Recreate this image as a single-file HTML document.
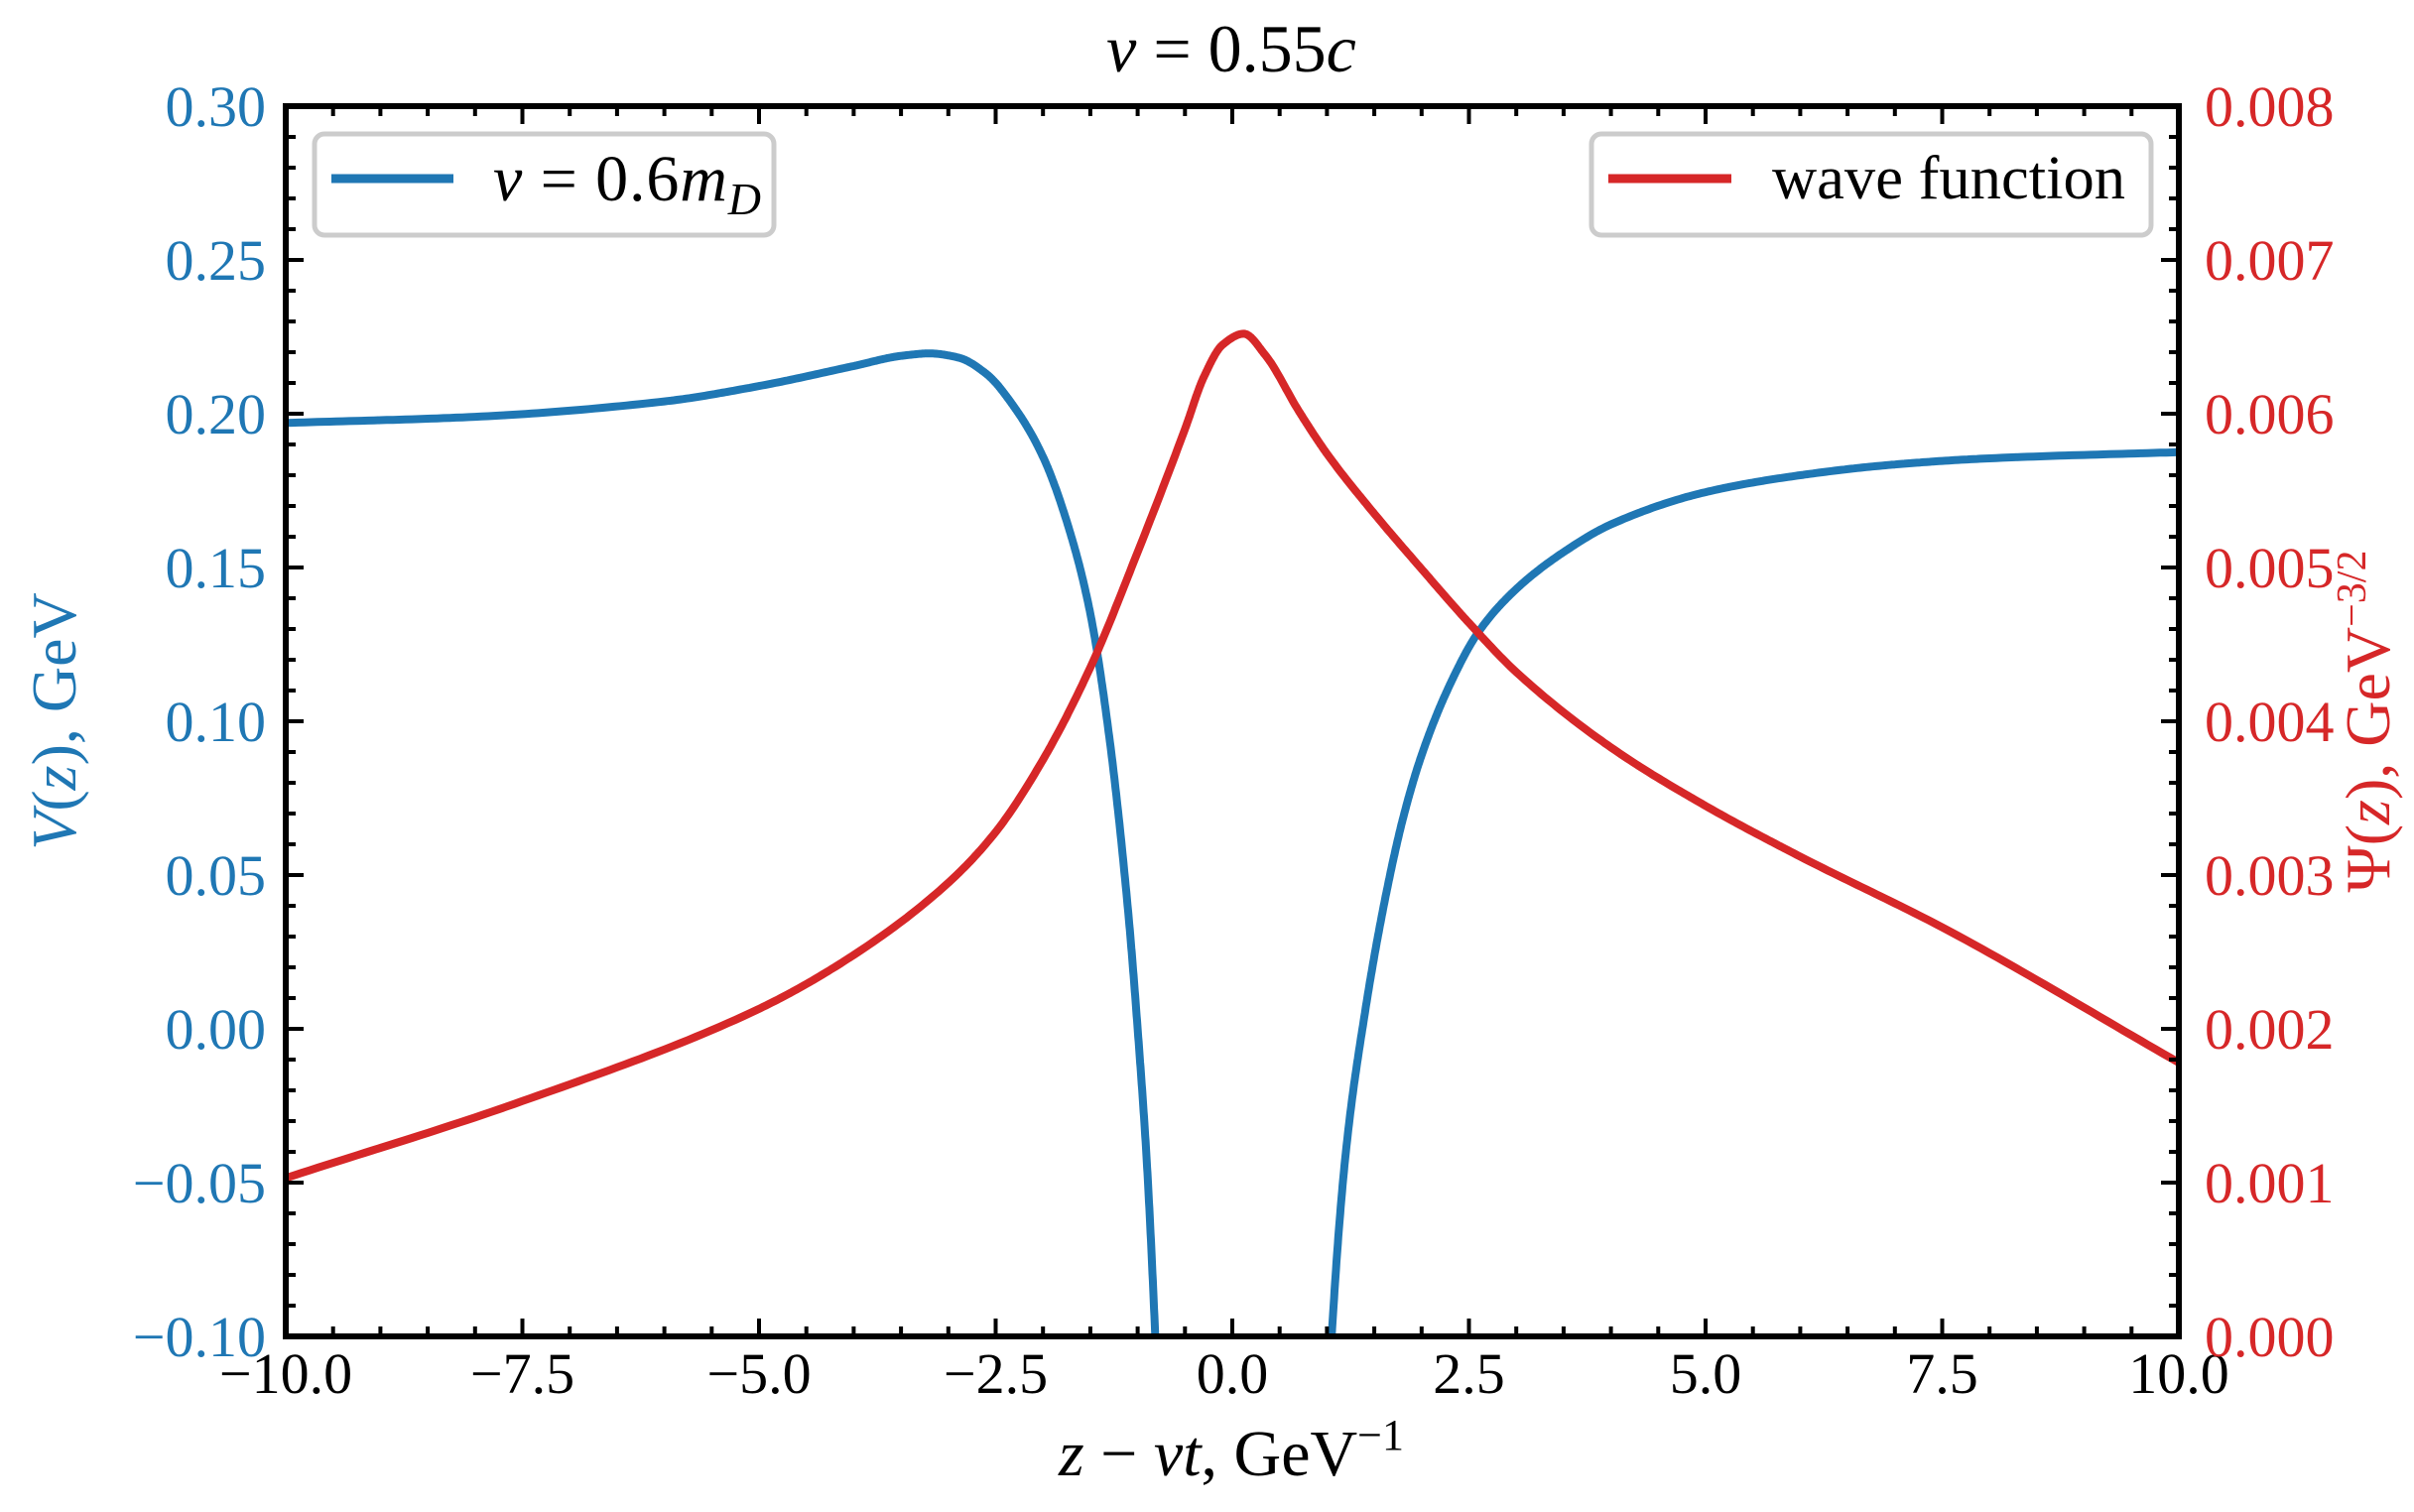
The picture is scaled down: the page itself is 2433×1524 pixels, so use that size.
<!DOCTYPE html>
<html><head><meta charset="utf-8"><style>
html,body{margin:0;padding:0;background:#fff;}
svg{display:block;}
text{font-family:"Liberation Serif",serif;}
</style></head><body>
<svg id="s" width="2433" height="1524" viewBox="0 0 2433 1524" xmlns="http://www.w3.org/2000/svg">
<defs><clipPath id="c"><rect x="288" y="107" width="1908" height="1240"/></clipPath></defs>
<g id="curves" clip-path="url(#c)"></g>
<g id="ticks"></g>
<rect x="288" y="107" width="1908" height="1240" fill="none" stroke="#000" stroke-width="6"/>
<text x="1241" y="72" font-size="68" text-anchor="middle" font-style="italic">v <tspan font-style="normal">= 0.55</tspan>c</text>
<rect x="317" y="135" width="463" height="102" rx="10" fill="#fff" fill-opacity="0.8" stroke="#ccc" stroke-width="5"/>
<line x1="334" y1="180" x2="457" y2="180" stroke="#1f77b4" stroke-width="9"/>
<text x="497" y="202" font-size="66" textLength="270"><tspan font-style="italic">ν</tspan> = 0.6<tspan font-style="italic">m</tspan><tspan font-style="italic" font-size="46" dy="14">D</tspan></text>
<rect x="1604" y="135" width="564" height="102" rx="10" fill="#fff" fill-opacity="0.8" stroke="#ccc" stroke-width="5"/>
<line x1="1621" y1="180" x2="1745" y2="180" stroke="#d62728" stroke-width="9"/>
<text x="1786" y="200" font-size="62" textLength="356" lengthAdjust="spacingAndGlyphs">wave function</text>
<text x="1241" y="1487" font-size="66" text-anchor="middle"><tspan font-style="italic">z</tspan> − <tspan font-style="italic">vt</tspan>, GeV<tspan font-size="44" dy="-26">−1</tspan></text>
<text transform="translate(76,727) rotate(-90)" font-size="64" text-anchor="middle" fill="#1f77b4"><tspan font-style="italic">V</tspan>(<tspan font-style="italic">z</tspan>), GeV</text>
<text transform="translate(2408,727) rotate(-90)" font-size="64" text-anchor="middle" fill="#d62728">Ψ(<tspan font-style="italic">z</tspan>), GeV<tspan font-size="42" dy="-24">−3/2</tspan></text>
</svg>
<script>
const NS="http://www.w3.org/2000/svg";
const L=288,R=2196,T=107,B=1347;
const X=x=>L+(x+10)*95.4, YL=v=>B-(v+0.1)*3100, YR=p=>B-p*155000;
function el(p,n,a,txt){const e=document.createElementNS(NS,n);for(const k in a)e.setAttribute(k,a[k]);if(txt!==undefined)e.textContent=txt;p.appendChild(e);return e;}
function mono(pts){const n=pts.length,xs=pts.map(p=>p[0]),ys=pts.map(p=>p[1]);const d=[],m=[];
for(let i=0;i<n-1;i++)d.push((ys[i+1]-ys[i])/(xs[i+1]-xs[i]));
m[0]=d[0];m[n-1]=d[n-2];for(let i=1;i<n-1;i++){if(d[i-1]*d[i]<=0)m[i]=0;else{const w1=2*(xs[i+1]-xs[i])+(xs[i]-xs[i-1]),w2=(xs[i+1]-xs[i])+2*(xs[i]-xs[i-1]);m[i]=(w1+w2)/(w1/d[i-1]+w2/d[i]);}}
const out=[];for(let i=0;i<n-1;i++){const h=xs[i+1]-xs[i];for(let k=0;k<30;k++){const t=k/30,t2=t*t,t3=t2*t;
out.push([xs[i]+t*h,(2*t3-3*t2+1)*ys[i]+(t3-2*t2+t)*h*m[i]+(-2*t3+3*t2)*ys[i+1]+(t3-t2)*h*m[i+1]]);}}
out.push([xs[n-1],ys[n-1]]);return out;}
function path(pts,fy){return "M"+pts.map(p=>X(p[0]).toFixed(1)+","+fy(p[1]).toFixed(1)).join(" L");}
const cg=document.getElementById("curves");
const b1=[[-10,0.197],[-8,0.199],[-6,0.204],[-5,0.209],[-4,0.2155],[-3.5,0.2188],[-3.2,0.2196],[-2.9,0.2183],[-2.6,0.213],[-2.3,0.202],[-2.0,0.186],[-1.7,0.16],[-1.5,0.135],[-1.3,0.095],[-1.1,0.038],[-1,0.0],[-0.9,-0.045],[-0.8,-0.11],[-0.75,-0.15]];
const b2=[[0.95,-0.17],[1.05,-0.1],[1.2,-0.04],[1.4,0.005],[1.6,0.04],[1.8,0.068],[2,0.089],[2.3,0.112],[2.6,0.129],[3,0.143],[3.5,0.155],[4,0.164],[5,0.1745],[6,0.18],[7,0.1835],[8,0.1855],[10,0.1875]];
const r=[[-10,0.00103],[-7.5,0.00153],[-5,0.00213],[-4,0.00248],[-3,0.00295],[-2.5,0.00328],[-2,0.00375],[-1.5,0.00435],[-1,0.0051],[-0.5,0.0059],[-0.3,0.00624],[-0.1,0.00645],[0.12,0.00652],[0.35,0.00638],[0.7,0.00602],[1,0.00574],[1.5,0.00535],[2,0.00499],[2.5,0.00464],[3,0.00432],[4,0.00383],[5,0.00345],[6,0.00312],[7.5,0.00266],[10,0.00178]];
el(cg,"path",{d:path(mono(b1),YL),fill:"none",stroke:"#1f77b4","stroke-width":8,"stroke-linejoin":"round"});
el(cg,"path",{d:path(mono(b2),YL),fill:"none",stroke:"#1f77b4","stroke-width":8,"stroke-linejoin":"round"});
el(cg,"path",{d:path(mono(r),YR),fill:"none",stroke:"#d62728","stroke-width":8,"stroke-linejoin":"round"});
const tg=document.getElementById("ticks");
const tk=(x1,y1,x2,y2)=>el(tg,"line",{x1,y1,x2,y2,stroke:"#000","stroke-width":4});
for(let i=0;i<=40;i++){const x=X(-10+i*0.5),len=i%5==0?18:10;tk(x,B,x,B-len);tk(x,T,x,T+len);
 if(i%5==0){const v=-10+i*0.5;el(tg,"text",{x:x,y:1404,"font-size":58,"text-anchor":"middle"},(v<0?"−":"")+Math.abs(v).toFixed(1));}}
for(let i=0;i<=40;i++){const y=YL(-0.1+i*0.01),len=i%5==0?18:10;tk(L,y,L+len,y);
 if(i%5==0){const v=-0.1+i*0.01;el(tg,"text",{x:268,y:y+20,"font-size":58,"text-anchor":"end",fill:"#1f77b4"},(v<-1e-9?"−":"")+Math.abs(v).toFixed(2));}}
for(let i=0;i<=40;i++){const y=YR(i*0.0002),len=i%5==0?18:10;tk(R,y,R-len,y);
 if(i%5==0){el(tg,"text",{x:2222,y:y+20,"font-size":58,"text-anchor":"start",fill:"#d62728"},(i*0.0002).toFixed(3));}}
</script>
</body></html>
